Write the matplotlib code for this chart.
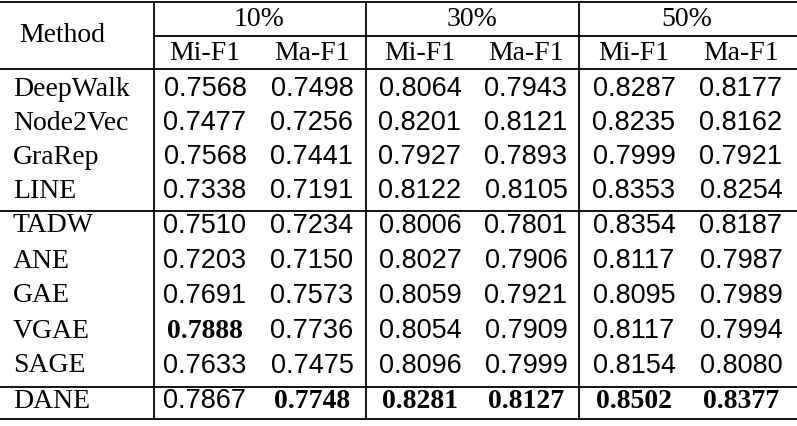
import matplotlib
matplotlib.use('Agg')
import matplotlib.pyplot as plt

methods = ['DeepWalk', 'Node2Vec', 'GraRep', 'LINE', 'TADW', 'ANE', 'GAE', 'VGAE', 'SAGE', 'DANE']
groups = ['10%', '30%', '50%']
subs = ['Mi-F1', 'Ma-F1']
values = [
    ['0.7568', '0.7498', '0.8064', '0.7943', '0.8287', '0.8177'],
    ['0.7477', '0.7256', '0.8201', '0.8121', '0.8235', '0.8162'],
    ['0.7568', '0.7441', '0.7927', '0.7893', '0.7999', '0.7921'],
    ['0.7338', '0.7191', '0.8122', '0.8105', '0.8353', '0.8254'],
    ['0.7510', '0.7234', '0.8006', '0.7801', '0.8354', '0.8187'],
    ['0.7203', '0.7150', '0.8027', '0.7906', '0.8117', '0.7987'],
    ['0.7691', '0.7573', '0.8059', '0.7921', '0.8095', '0.7989'],
    ['0.7888', '0.7736', '0.8054', '0.7909', '0.8117', '0.7994'],
    ['0.7633', '0.7475', '0.8096', '0.7999', '0.8154', '0.8080'],
    ['0.7867', '0.7748', '0.8281', '0.8127', '0.8502', '0.8377'],
]
bold = {(7, 0), (9, 1), (9, 2), (9, 3), (9, 4), (9, 5)}

fig = plt.figure(figsize=(7.97, 4.26), dpi=100)
ax = fig.add_axes([0, 0, 1, 1])
ax.set_xlim(0, 797)
ax.set_ylim(426, 0)
ax.axis('off')

serif = 'Liberation Serif'
sans = 'Liberation Sans'
fs = 20
lw = 1.3

col_x = [205, 312, 420, 526, 634, 741]
grp_x = [259, 472, 687]
row_y = [89, 123, 157, 191, 226, 261, 296, 331, 366, 401]

# rules
for y in [2, 69, 211, 387, 419]:
    ax.plot([0, 797], [y, y], color='black', lw=lw)
ax.plot([154, 797], [36, 36], color='black', lw=lw)
for x in [154, 366, 579]:
    ax.plot([x, x], [2, 419], color='black', lw=lw)

ax.text(62, 36, 'Method', family=serif, fontsize=fs, ha='center', va='center')
for gx, g in zip(grp_x, groups):
    ax.text(gx, 20, g, family=serif, fontsize=fs, ha='center', va='center')
for i, cx in enumerate(col_x):
    ax.text(cx, 54, subs[i % 2], family=serif, fontsize=fs, ha='center', va='center')

for r, (m, y) in enumerate(zip(methods, row_y)):
    ax.text(13, y, m, family=serif, fontsize=fs, ha='left', va='center')
    for c, cx in enumerate(col_x):
        if (r, c) in bold:
            ax.text(cx, y, values[r][c], family=serif, fontsize=fs, fontweight='bold',
                    ha='center', va='center')
        else:
            ax.text(cx, y, values[r][c], family=sans, fontsize=19.5,
                    ha='center', va='center')

fig.savefig('out.png', dpi=100)
